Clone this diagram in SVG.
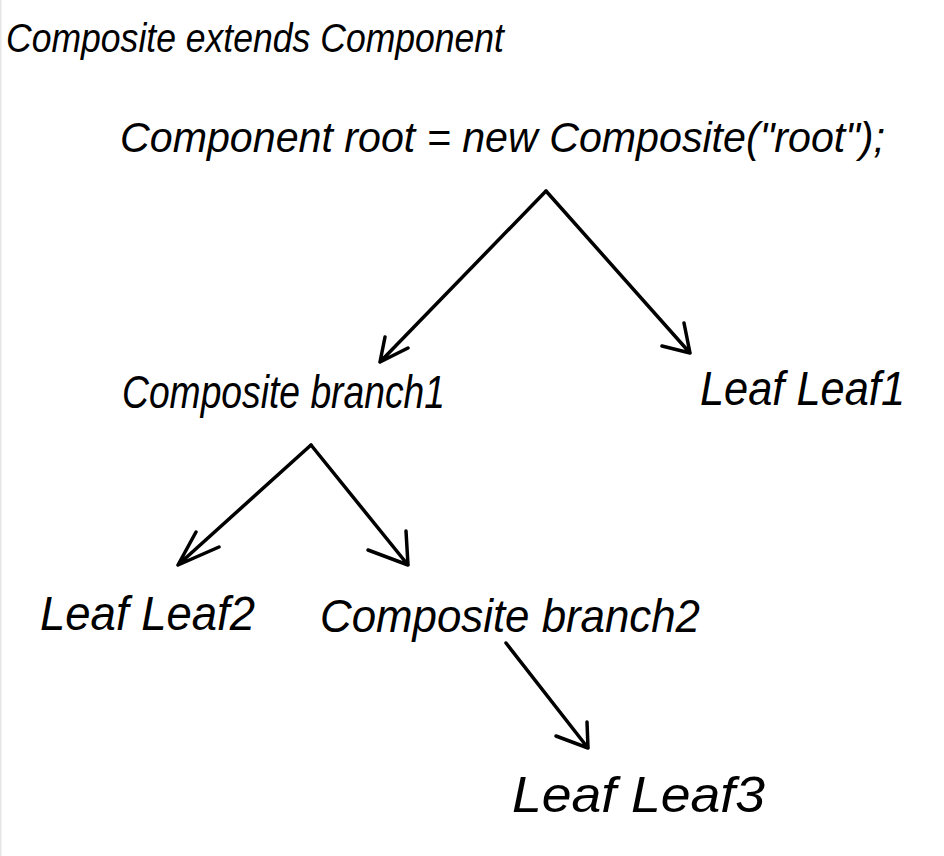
<svg xmlns="http://www.w3.org/2000/svg" width="944" height="856" viewBox="0 0 944 856">
<style>
.t{font-family:"Liberation Sans","DejaVu Sans",sans-serif;font-style:italic;fill:#000}
.c{fill:none;stroke:#000;stroke-width:3.5;stroke-linecap:round;stroke-linejoin:round}
</style>
<rect width="944" height="856" fill="#fff"/>
<line x1="0.75" y1="0" x2="0.75" y2="856" stroke="#e6e6e6" stroke-width="1.5"/>
<g id="header"><text class="t" x="6" y="52" font-size="40" textLength="498" lengthAdjust="spacingAndGlyphs">Composite extends Component</text></g>
<g id="root"><text class="t" x="120" y="152" font-size="42" textLength="765" lengthAdjust="spacingAndGlyphs">Component root = new Composite("root");</text></g>
<g id="branch1"><text class="t" x="122" y="408" font-size="46" textLength="323" lengthAdjust="spacingAndGlyphs">Composite branch1</text></g>
<g id="leaf1"><text class="t" x="700" y="405" font-size="48" textLength="205" lengthAdjust="spacingAndGlyphs">Leaf Leaf1</text></g>
<g id="leaf2"><text class="t" x="40" y="630" font-size="48" textLength="215" lengthAdjust="spacingAndGlyphs">Leaf Leaf2</text></g>
<g id="branch2"><text class="t" x="320" y="632" font-size="46" textLength="380" lengthAdjust="spacingAndGlyphs">Composite branch2</text></g>
<g id="leaf3"><text class="t" x="512" y="812" font-size="50" textLength="253" lengthAdjust="spacingAndGlyphs">Leaf Leaf3</text></g>
<g id="connectors">
<path class="c" d="M546,191 L380,362 M385,337 L380,362 L408,348"/>
<path class="c" d="M546,191 L690,353 M684,323 L690,353 L662,346"/>
<path class="c" d="M311,445 L178,565 M196,532 L178,565 L219,547"/>
<path class="c" d="M311,445 L408,565 M406,531 L408,565 L368,550"/>
<path class="c" d="M506,643 L588,748 M587,722 L588,748 L556,736"/>
</g>
</svg>
